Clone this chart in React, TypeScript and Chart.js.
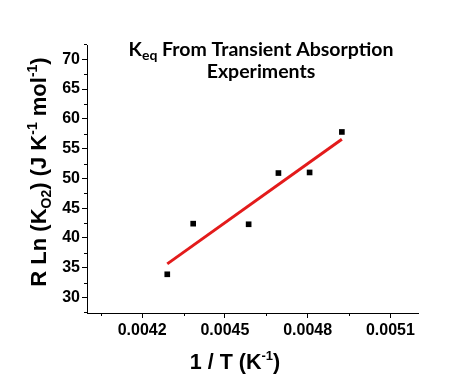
import React, { useEffect, useRef } from "react";
import { Chart, registerables } from "chart.js";

Chart.register(...registerables);

// Data
const invT = [0.004291, 0.004385, 0.004586, 0.004694, 0.004807, 0.004924];
const rLnK = [33.9, 42.4, 42.3, 50.9, 51.0, 57.8];
const fitX = [0.004291, 0.004924];
const fitY = [35.65, 56.58];

const xTicks = [0.0042, 0.0045, 0.0048, 0.0051];
const xMinor = [0.00405, 0.00435, 0.00465, 0.00495];
const yTicks = [30, 35, 40, 45, 50, 55, 60, 65, 70];
const yMinor = [27.5, 32.5, 37.5, 42.5, 47.5, 52.5, 57.5, 62.5, 67.5, 72.5];

const titleLine1 = [
  { t: "K", k: "n" },
  { t: "eq", k: "sub" },
  { t: " From Transient Absorption", k: "n" },
];
const titleLine2 = "Experiments";
const xTitle = [
  { t: "1 / T (K", k: "n" },
  { t: "-1", k: "sup" },
  { t: ")", k: "n" },
];
const yTitle = [
  { t: "R Ln (K", k: "n" },
  { t: "O2", k: "sub" },
  { t: ") (J K", k: "n" },
  { t: "-1", k: "sup" },
  { t: " mol", k: "n" },
  { t: "-1", k: "sup" },
  { t: ")", k: "n" },
];

type Seg = { t: string; k: string };

function drawRich(
  ctx: CanvasRenderingContext2D,
  segs: Seg[],
  cx: number,
  baseY: number,
  family: string,
  size: number,
  smallRatio = 0.62
) {
  const small = Math.round(size * smallRatio);
  const fontFor = (k: string) =>
    `bold ${k === "n" ? size : small}px ${family}`;
  let total = 0;
  for (const s of segs) {
    ctx.font = fontFor(s.k);
    total += ctx.measureText(s.t).width;
  }
  let x = cx - total / 2;
  ctx.textAlign = "left";
  ctx.textBaseline = "alphabetic";
  for (const s of segs) {
    ctx.font = fontFor(s.k);
    let y = baseY;
    if (s.k === "sub") y += size * 0.22;
    if (s.k === "sup") y -= size * 0.42;
    ctx.fillText(s.t, x, y);
    x += ctx.measureText(s.t).width;
  }
}

const textPlugin = {
  id: "textPlugin",
  afterDraw(chart: any) {
    const ctx = chart.ctx as CanvasRenderingContext2D;
    const xs = chart.scales.x;
    const ys = chart.scales.y;
    const area = chart.chartArea;
    ctx.save();
    ctx.strokeStyle = "#000";
    ctx.lineWidth = 1;
    // minor ticks
    ctx.beginPath();
    for (const v of xMinor) {
      const px = Math.round(xs.getPixelForValue(v)) + 0.5;
      ctx.moveTo(px, area.bottom);
      ctx.lineTo(px, area.bottom + 3);
    }
    for (const v of yMinor) {
      const py = Math.round(ys.getPixelForValue(v)) + 0.5;
      ctx.moveTo(area.left, py);
      ctx.lineTo(area.left - 3, py);
    }
    ctx.stroke();

    ctx.fillStyle = "#000";
    // chart title
    const tf = "Lato, 'Open Sans', sans-serif";
    drawRich(ctx, titleLine1 as Seg[], 261, 56, tf, 19.5, 0.7);
    drawRich(ctx, [{ t: titleLine2, k: "n" }], 261, 78, tf, 19.5);

    // axis titles
    const af = "'Liberation Sans', Arial, sans-serif";
    drawRich(ctx, xTitle as Seg[], 235, 369, af, 21.5);
    ctx.translate(46, 172);
    ctx.rotate(-Math.PI / 2);
    drawRich(ctx, yTitle as Seg[], 0, 0, af, 22);
    ctx.restore();
  },
};

export default function App() {
  const ref = useRef<HTMLCanvasElement | null>(null);
  useEffect(() => {
    document.body.style.margin = "0";
    const canvas = ref.current!;
    const tickFont = {
      family: "'Liberation Sans', Arial, sans-serif",
      size: 16,
      weight: "bold" as const,
    };
    const chart = new Chart(canvas, {
      type: "scatter",
      data: {
        datasets: [
          {
            label: "data",
            data: invT.map((x, i) => ({ x, y: rLnK[i] })),
            backgroundColor: "#000",
            borderColor: "#000",
            pointStyle: "rect",
            pointRadius: 4,
            borderWidth: 0,
          },
          {
            label: "fit",
            data: fitX.map((x, i) => ({ x, y: fitY[i] })),
            showLine: true,
            borderColor: "#e31b1b",
            borderWidth: 3,
            pointRadius: 0,
          },
        ],
      },
      plugins: [textPlugin],
      options: {
        responsive: false,
        animation: false,
        layout: { padding: { top: 45, right: 56, left: 0, bottom: 0 } },
        plugins: {
          legend: { display: false },
          tooltip: { enabled: false },
          title: { display: false },
        },
        scales: {
          x: {
            type: "linear",
            min: 0.004,
            max: 0.0052,
            afterBuildTicks: (s: any) => {
              s.ticks = xTicks.map((v) => ({ value: v }));
            },
            afterFit: (s: any) => {
              s.height = 64;
            },
            ticks: {
              font: tickFont,
              color: "#000",
              padding: 3,
              autoSkip: false,
              maxRotation: 0,
              callback: (v: any) => Number(v).toFixed(4),
            },
            grid: {
              drawOnChartArea: false,
              drawTicks: true,
              tickLength: 5,
              tickColor: "#000",
              tickWidth: 1,
            },
            border: { display: true, color: "#000", width: 1 },
          },
          y: {
            type: "linear",
            min: 27.4,
            max: 72.4,
            afterBuildTicks: (s: any) => {
              s.ticks = yTicks.map((v) => ({ value: v }));
            },
            afterFit: (s: any) => {
              s.width = 87;
            },
            ticks: {
              font: tickFont,
              color: "#000",
              padding: 2,
              autoSkip: false,
              callback: (v: any) => String(v),
            },
            grid: {
              drawOnChartArea: false,
              drawTicks: true,
              tickLength: 5,
              tickColor: "#000",
              tickWidth: 1,
            },
            border: { display: true, color: "#000", width: 1 },
          },
        },
      },
    });
    return () => chart.destroy();
  }, []);
  return (
    <div style={{ position: "fixed", left: 0, top: 0, width: 474, height: 377, background: "#fff" }}>
      <canvas ref={ref} width={474} height={377} />
    </div>
  );
}
